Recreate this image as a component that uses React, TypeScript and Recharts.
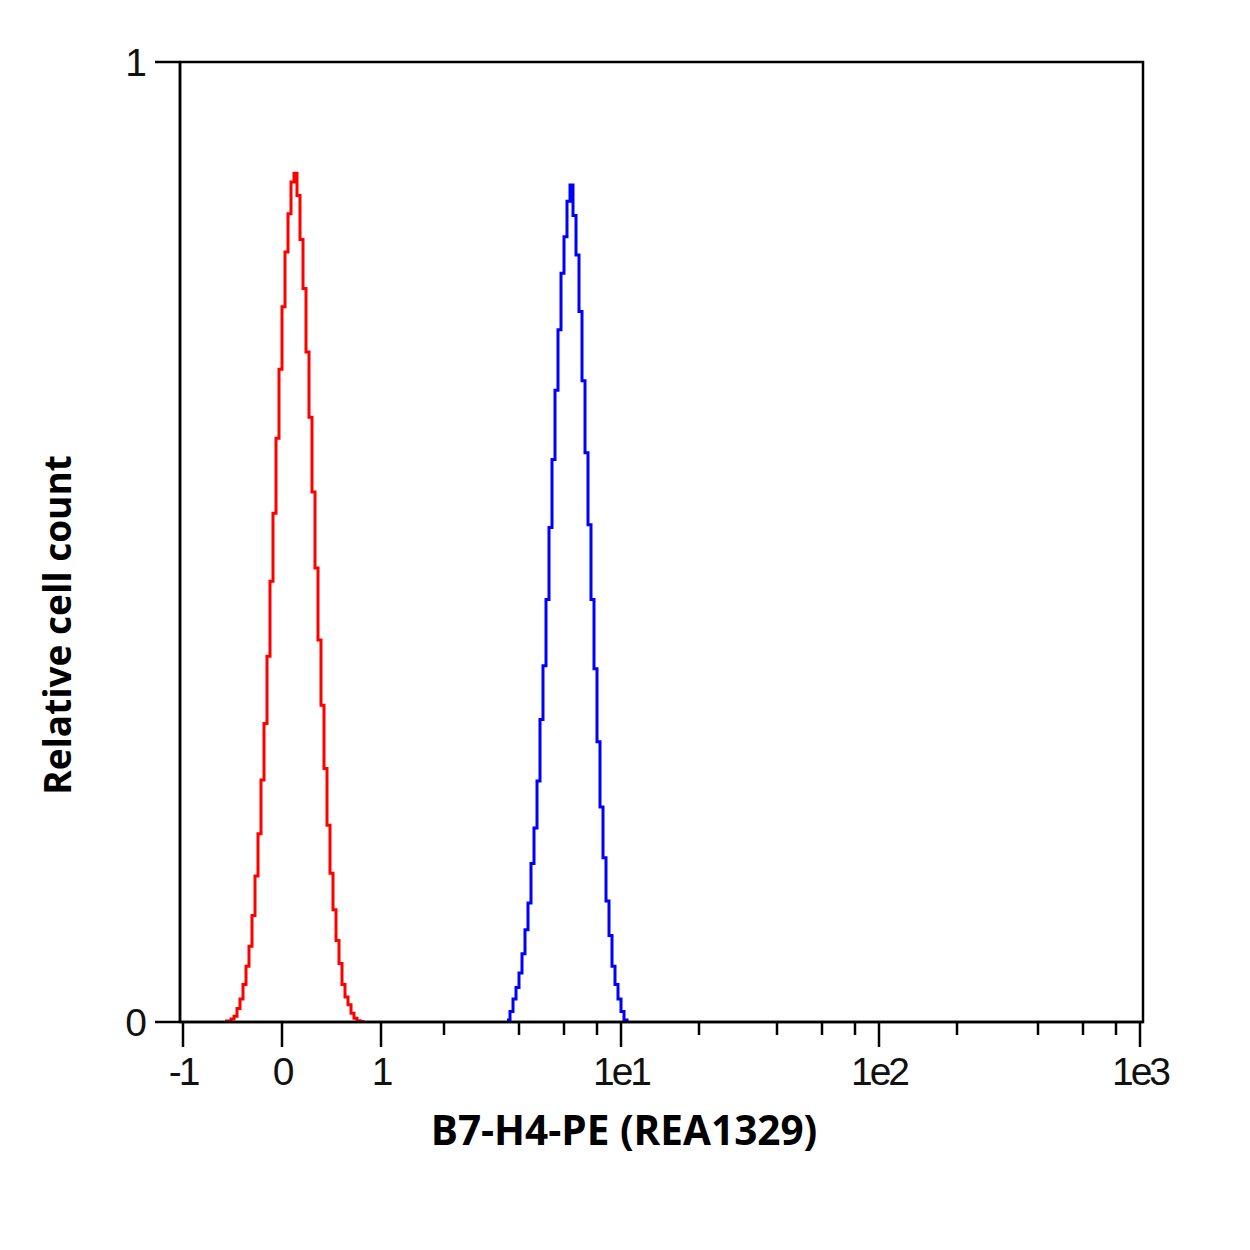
import { LineChart, Line, XAxis, YAxis, ReferenceArea } from 'recharts'

// display channels across the x axis (biexponential scale)
const channelMax = 321

// histogram counts, one value per display channel, starting at the given channel
const redStart = 15
const redCounts = [
  0.001, 0.001, 0.003, 0.006, 0.014, 0.024, 0.039, 0.058, 0.079, 0.111,
  0.152, 0.196, 0.252, 0.311, 0.381, 0.459, 0.530, 0.608, 0.680, 0.745,
  0.802, 0.842, 0.875, 0.884, 0.861, 0.815, 0.764, 0.698, 0.630, 0.552,
  0.473, 0.398, 0.330, 0.264, 0.205, 0.155, 0.117, 0.085, 0.061, 0.039,
  0.026, 0.018, 0.009, 0.004, 0.0014, 0.0005,
]

const blueStart = 109
const blueCounts = [
  0.002, 0.011, 0.024, 0.036, 0.051, 0.071, 0.096, 0.124, 0.165, 0.202,
  0.251, 0.315, 0.371, 0.440, 0.515, 0.586, 0.658, 0.721, 0.780, 0.818,
  0.855, 0.872, 0.840, 0.799, 0.740, 0.668, 0.593, 0.518, 0.440, 0.368,
  0.292, 0.224, 0.171, 0.126, 0.090, 0.058, 0.039, 0.024, 0.011, 0.002,
]

// axis ticks, in display channels
const majorTicks = [1, 34, 67, 147, 233, 320]
const majorLabels = ['-1', '0', '1', '1e1', '1e2', '1e3']
const minorTicks = [88, 113, 128, 139, 173, 199, 214, 225, 259, 286, 301, 312]
const yTicks = [0, 1]

const xTitle = 'B7-H4-PE (REA1329)'
const yTitle = 'Relative cell count'

const tickFont = '"Liberation Sans", Arial, sans-serif'
const titleFont = '"Open Sans", "Noto Sans", sans-serif'

function toSeries(start: number, counts: number[]) {
  const pts = counts.map((c, i) => ({ ch: start + i, count: c }))
  pts.push({ ch: start + counts.length, count: 0 })
  return pts
}

const redData = toSeries(redStart, redCounts)
const blueData = toSeries(blueStart, blueCounts)

function XTick(props: any) {
  const { x, y, payload } = props
  const i = majorTicks.indexOf(payload.value)
  const major = i >= 0
  return (
    <g>
      <line x1={x} x2={x} y1={y} y2={y + (major ? 25 : 13)} stroke="#000" strokeWidth={2.5} />
      {major && (
        <text x={x} y={y + 63} textAnchor="middle" fontFamily={tickFont} fontSize={39}
          letterSpacing={-3} fill="#111">
          {majorLabels[i]}
        </text>
      )}
    </g>
  )
}

export default function App() {
  return (
    <div style={{ position: 'fixed', left: 0, top: 0, width: 1250, height: 1250, background: '#fff' }}>
      <LineChart width={1250} height={1250} data={redData}
        margin={{ top: 62, right: 107, left: 80, bottom: 108 }}>
        <XAxis dataKey="ch" type="number" domain={[0, channelMax]} allowDataOverflow
          ticks={[...majorTicks, ...minorTicks]} interval={0} height={120}
          tickSize={0} tickMargin={0} tickLine={false} tick={<XTick />}
          axisLine={{ stroke: '#000', strokeWidth: 2.5 }}
          label={() => (
            <text x={624} y={1145} textAnchor="middle" fontFamily={titleFont}
              fontWeight={700} fontSize={40.5} fill="#000">{xTitle}</text>
          )} />
        <YAxis type="number" domain={[0, 1]} ticks={yTicks} width={100}
          tickSize={25} tickMargin={8}
          tickLine={{ stroke: '#000', strokeWidth: 2.5 }}
          axisLine={{ stroke: '#000', strokeWidth: 2.5 }}
          tick={{ fontFamily: tickFont, fontSize: 39, fill: '#111' }}
          label={() => (
            <text transform="translate(71, 625) rotate(-90)" textAnchor="middle"
              fontFamily={titleFont} fontWeight={700} fontSize={37} fill="#000">{yTitle}</text>
          )} />
        <ReferenceArea x1={0} x2={channelMax} y1={0} y2={1} fill="none"
          stroke="#000" strokeWidth={2.5} ifOverflow="visible" />
        <Line data={redData} dataKey="count" type="stepAfter" stroke="#ff0000"
          strokeWidth={3} dot={false} isAnimationActive={false} />
        <Line data={blueData} dataKey="count" type="stepAfter" stroke="#0000ff"
          strokeWidth={3} dot={false} isAnimationActive={false} />
      </LineChart>
    </div>
  )
}
